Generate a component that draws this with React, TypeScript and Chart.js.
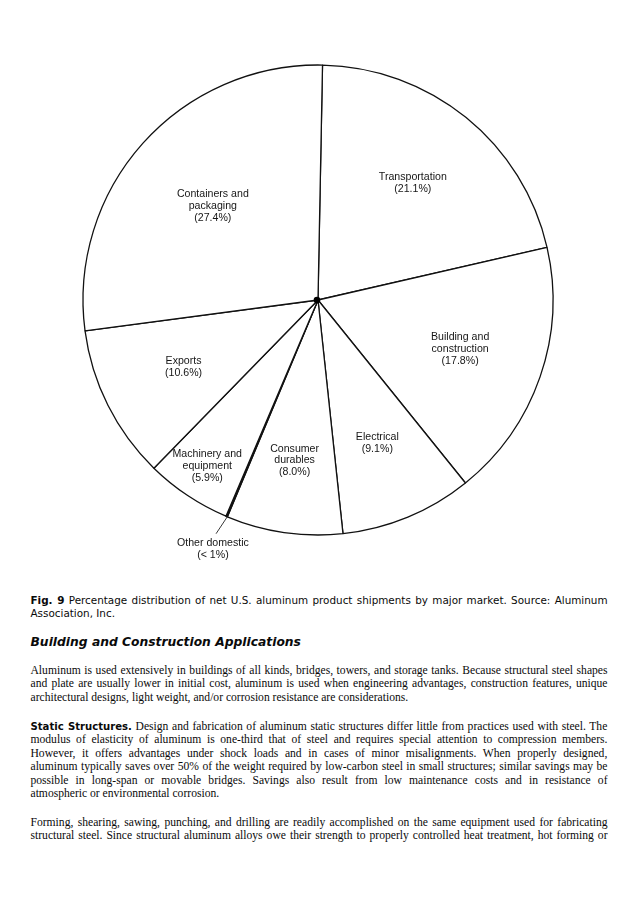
import React, { useEffect, useRef } from 'react';
import { Chart, registerables } from 'chart.js';

Chart.register(...registerables);

// ---- data ----
const CATEGORIES: string[][] = [
  ['Transportation'],
  ['Building and', 'construction'],
  ['Electrical'],
  ['Consumer', 'durables'],
  ['Other domestic'],
  ['Machinery and', 'equipment'],
  ['Exports'],
  ['Containers and', 'packaging'],
];
const SHARES: number[] = [21.1, 17.8, 9.1, 8.0, 0.1, 5.9, 10.6, 27.4];
const SHARE_LABELS: string[] = ['(21.1%)', '(17.8%)', '(9.1%)', '(8.0%)', '(< 1%)', '(5.9%)', '(10.6%)', '(27.4%)'];

// ---- label placement (fraction of radius along slice mid-angle) ----
const LABEL_RADIUS = [0.64, 0.64, 0.66, 0.69, 1.15, 0.85, 0.64, 0.6];
const OUTSIDE = [false, false, false, false, true, false, false, false];

// ---- page text ----
const SANS = '"DejaVu Sans", Verdana, sans-serif';
const SERIF = '"Liberation Serif", "Times New Roman", serif';
const CAPTION_FONT = `10.4px ${SANS}`;
const CAPTION_BOLD = `bold 10.4px ${SANS}`;
const HEAD_FONT = `italic bold 12.3px ${SANS}`;
const BODY_FONT = `11.6px ${SERIF}`;
const BODY_BOLD = `bold 10.1px ${SANS}`;

type Part = { t: string; f: string };
type Line = { parts: Part[]; justify: boolean; cy: number };

const TEXT_X = 30.5;
const TEXT_W = 577;

const LINES: Line[] = [
  { parts: [{ t: 'Fig. 9', f: CAPTION_BOLD }, { t: ' Percentage distribution of net U.S. aluminum product shipments by major market. Source: Aluminum', f: CAPTION_FONT }], justify: true, cy: 599 },
  { parts: [{ t: 'Association, Inc.', f: CAPTION_FONT }], justify: false, cy: 612.3 },
  { parts: [{ t: 'Building and Construction Applications', f: HEAD_FONT }], justify: false, cy: 641 },
  { parts: [{ t: 'Aluminum is used extensively in buildings of all kinds, bridges, towers, and storage tanks. Because structural steel shapes', f: BODY_FONT }], justify: true, cy: 669.3 },
  { parts: [{ t: 'and plate are usually lower in initial cost, aluminum is used when engineering advantages, construction features, unique', f: BODY_FONT }], justify: true, cy: 682.7 },
  { parts: [{ t: 'architectural designs, light weight, and/or corrosion resistance are considerations.', f: BODY_FONT }], justify: false, cy: 696 },
  { parts: [{ t: 'Static Structures.', f: BODY_BOLD }, { t: ' Design and fabrication of aluminum static structures differ little from practices used with steel. The', f: BODY_FONT }], justify: true, cy: 725 },
  { parts: [{ t: 'modulus of elasticity of aluminum is one-third that of steel and requires special attention to compression members.', f: BODY_FONT }], justify: true, cy: 738.7 },
  { parts: [{ t: 'However, it offers advantages under shock loads and in cases of minor misalignments. When properly designed,', f: BODY_FONT }], justify: true, cy: 752.3 },
  { parts: [{ t: 'aluminum typically saves over 50% of the weight required by low-carbon steel in small structures; similar savings may be', f: BODY_FONT }], justify: true, cy: 765.7 },
  { parts: [{ t: 'possible in long-span or movable bridges. Savings also result from low maintenance costs and in resistance of', f: BODY_FONT }], justify: true, cy: 779.3 },
  { parts: [{ t: 'atmospheric or environmental corrosion.', f: BODY_FONT }], justify: false, cy: 792.5 },
  { parts: [{ t: 'Forming, shearing, sawing, punching, and drilling are readily accomplished on the same equipment used for fabricating', f: BODY_FONT }], justify: true, cy: 821 },
  { parts: [{ t: 'structural steel. Since structural aluminum alloys owe their strength to properly controlled heat treatment, hot forming or', f: BODY_FONT }], justify: true, cy: 834.7 },
];

let measureCtx: CanvasRenderingContext2D | null = null;
function measure(text: string, font: string): number {
  if (!measureCtx) measureCtx = document.createElement('canvas').getContext('2d');
  if (!measureCtx) return text.length * 5;
  measureCtx.font = font;
  return measureCtx.measureText(text).width;
}

function TextLine({ line }: { line: Line }) {
  const total = line.parts.reduce((s, p) => s + measure(p.t, p.f), 0);
  const spaces = line.parts.reduce((s, p) => s + (p.t.match(/ /g) || []).length, 0);
  const ws = line.justify && spaces > 0 ? (TEXT_W - total) / spaces : 0;
  const LH = 14;
  return (
    <div
      style={{
        position: 'absolute',
        left: TEXT_X,
        top: line.cy - 7.3,
        height: LH,
        lineHeight: `${LH}px`,
        whiteSpace: 'pre',
        color: '#0a0a0a',
      }}
    >
      {line.parts.map((p, i) => (
        <span key={i} style={{ font: p.f, lineHeight: `${LH}px`, wordSpacing: `${ws}px` }}>
          {p.t}
        </span>
      ))}
    </div>
  );
}

const sliceLabels = {
  id: 'sliceLabels',
  afterDatasetsDraw(chart: any) {
    const ctx: CanvasRenderingContext2D = chart.ctx;
    const meta = chart.getDatasetMeta(0);
    ctx.save();
    ctx.fillStyle = '#161616';
    ctx.font = '10.6px "Liberation Sans", Arial, sans-serif';
    ctx.textAlign = 'center';
    ctx.textBaseline = 'middle';
    let cxp = 0;
    let cyp = 0;
    meta.data.forEach((arc: any, i: number) => {
      const { x, y, startAngle, endAngle, outerRadius } = arc.getProps(
        ['x', 'y', 'startAngle', 'endAngle', 'outerRadius'],
        true
      );
      cxp = x;
      cyp = y;
      const mid = (startAngle + endAngle) / 2;
      const rr = outerRadius * LABEL_RADIUS[i];
      const lx = x + Math.cos(mid) * rr;
      const ly = y + Math.sin(mid) * rr;
      const lines = [...CATEGORIES[i], SHARE_LABELS[i]];
      const lh = 11.7;
      const y0 = ly - ((lines.length - 1) * lh) / 2;
      lines.forEach((t, k) => ctx.fillText(t, lx, y0 + k * lh));
      if (OUTSIDE[i]) {
        ctx.strokeStyle = '#222';
        ctx.lineWidth = 0.9;
        ctx.beginPath();
        ctx.moveTo(x + Math.cos(mid - 0.003) * outerRadius, y + Math.sin(mid - 0.003) * outerRadius);
        const a2 = mid + 0.012;
        ctx.lineTo(x + Math.cos(a2) * outerRadius * 1.085, y + Math.sin(a2) * outerRadius * 1.085);
        ctx.stroke();
      }
    });
    ctx.fillStyle = '#000';
    ctx.beginPath();
    ctx.arc(cxp - 1, cyp, 3.3, 0, Math.PI * 2);
    ctx.fill();
    ctx.restore();
  },
};

export default function App() {
  const ref = useRef<HTMLCanvasElement | null>(null);
  useEffect(() => {
    if (!ref.current) return;
    const chart = new Chart(ref.current, {
      type: 'pie',
      data: {
        labels: CATEGORIES.map((c) => c.join(' ')),
        datasets: [
          {
            data: SHARES,
            backgroundColor: SHARES.map((_, i) => (OUTSIDE[i] ? '#111' : '#ffffff')),
            borderColor: '#111',
            borderWidth: SHARES.map((_, i) => (OUTSIDE[i] ? 1.6 : 1.3)),
            hoverOffset: 0,
          },
        ],
      },
      options: {
        responsive: false,
        maintainAspectRatio: false,
        animation: false,
        rotation: 1.1,
        radius: 235,
        layout: { padding: { left: 83, right: 85, top: 65, bottom: 45 } },
        plugins: {
          legend: { display: false },
          tooltip: { enabled: false },
        },
        events: [],
      } as any,
      plugins: [sliceLabels],
    });
    return () => chart.destroy();
  }, []);

  return (
    <div style={{ position: 'absolute', left: 0, top: 0, width: 638, height: 901, background: '#fff', overflow: 'hidden' }}>
      <canvas ref={ref} width={638} height={580} style={{ position: 'absolute', left: 0, top: 0, width: 638, height: 580 }} />
      {LINES.map((l, i) => (
        <TextLine key={i} line={l} />
      ))}
    </div>
  );
}
